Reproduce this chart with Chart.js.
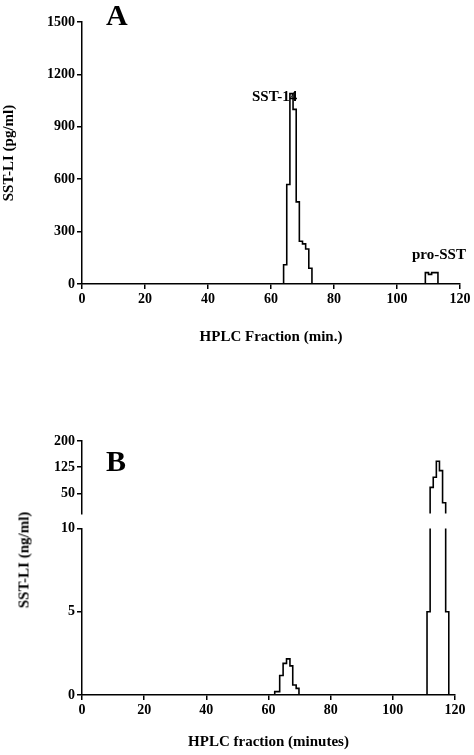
<!DOCTYPE html>
<html><head><meta charset="utf-8">
<script src="https://cdn.jsdelivr.net/npm/chart.js@4"></script>
<style>
body{margin:0;width:474px;height:755px;position:relative;background:#fff;font-family:"Liberation Serif",serif;font-weight:bold;color:#000}
canvas{position:absolute;left:0}
.t{position:absolute;white-space:nowrap}
</style></head><body>
<canvas id="a" style="top:0px" width="474" height="350"></canvas>
<canvas id="bu" style="top:400px" width="474" height="124"></canvas>
<canvas id="bl" style="top:518px" width="474" height="237"></canvas>
<div class="t" style="left:106px;top:-2px;font-size:30px">A</div>
<div class="t" style="left:106px;top:444px;font-size:30px">B</div>
<div class="t" style="left:252px;top:88px;font-size:15px">SST-14</div>
<div class="t" style="left:412px;top:246px;font-size:15px">pro-SST</div>
<div class="t" style="left:24px;top:560px;font-size:15px;transform:translate(-50%,-50%) rotate(-90deg)">SST-LI (ng/ml)</div>
<script>
// Panel A: fraction start (min) and SST-LI (pg/ml)
const aMinutes = [64,65,66,67,68,69,70,71,72,73,74,109,110,111,112,113,114];
const aValues  = [0,110,570,1090,1000,470,245,230,200,90,0,0,65,55,65,65,0];
// Panel B: fraction start (min) and SST-LI (ng/ml)
const bMinutes = [62,63.6,64.7,65.8,66.9,67.8,68.9,69.8,70.9,111,112,113,114,115,116,117,118,119,120];
const bValues  = [0,0.2,1.17,1.9,2.17,1.75,0.6,0.4,0,0,5,67,96,142,115,23,5,0,0];
const xTicks = [0,20,40,60,80,100,120];
const aYTicks = [0,300,600,900,1200,1500];
const bLowTicks = [0,5,10];
const bUpTicks = [50,125,200];

const F = {family:"Liberation Serif", weight:"bold", size:14};
const pts = (xs, ys, f) => xs.map((x,i)=>({x, y:f?f(ys[i]):ys[i]}));
function ds(data){return {data, stepped:'after', borderColor:'#000', borderWidth:1.6, pointRadius:0, fill:false};}
function yAxis(min,max,ticks,w,title){
  return {type:'linear',min,max,border:{color:'#000',width:1.5},
    grid:{drawOnChartArea:false,color:'#000',tickLength:5,lineWidth:1.5},
    ticks:{color:'#000',font:F,padding:2,callback:v=>String(v)},
    afterBuildTicks:s=>{s.ticks=ticks.map(v=>({value:v}));},
    afterFit:s=>{s.width=w;},
    title:title?{display:true,text:title,color:'#000',font:{...F,size:15},padding:0}:{display:false}};
}
function xAxis(show,h,title){
  return {type:'linear',min:0,max:120,display:show,border:{color:'#000',width:1.5},
    grid:{drawOnChartArea:false,color:'#000',tickLength:5,lineWidth:1.5},
    ticks:{color:'#000',font:F,padding:2,callback:v=>String(v)},
    afterBuildTicks:s=>{s.ticks=xTicks.map(v=>({value:v}));},
    afterFit:s=>{s.height=h;},
    title:{display:!!title,text:title||'',color:'#000',font:{...F,size:15},padding:{top:8}}};
}
const common = {responsive:false,animation:false,plugins:{legend:{display:false},tooltip:{enabled:false}}};

new Chart(document.getElementById('a'),{type:'line',
  data:{datasets:[ds(pts(aMinutes,aValues))]},
  options:{...common,layout:{padding:{top:22,right:14,left:0,bottom:0}},
    scales:{x:xAxis(true,66,'HPLC Fraction (min.)'),y:yAxis(0,1500,aYTicks,82,'SST-LI (pg/ml)')}}});

new Chart(document.getElementById('bu'),{type:'line',
  data:{datasets:[ds(pts(bMinutes.slice(9),bValues.slice(9),v=>v>10?v:-20))]},
  options:{...common,layout:{padding:{top:41,right:19,left:0,bottom:2}},
    scales:{x:xAxis(false,0),y:yAxis(-8,200,bUpTicks,82)}}});

new Chart(document.getElementById('bl'),{type:'line',
  data:{datasets:[ds(pts(bMinutes,bValues,v=>v>10?11:v))]},
  options:{...common,layout:{padding:{top:9,right:19,left:0,bottom:0}},
    scales:{x:xAxis(true,60,'HPLC fraction (minutes)'),y:yAxis(0,10,bLowTicks,82)}}});
</script></body></html>
